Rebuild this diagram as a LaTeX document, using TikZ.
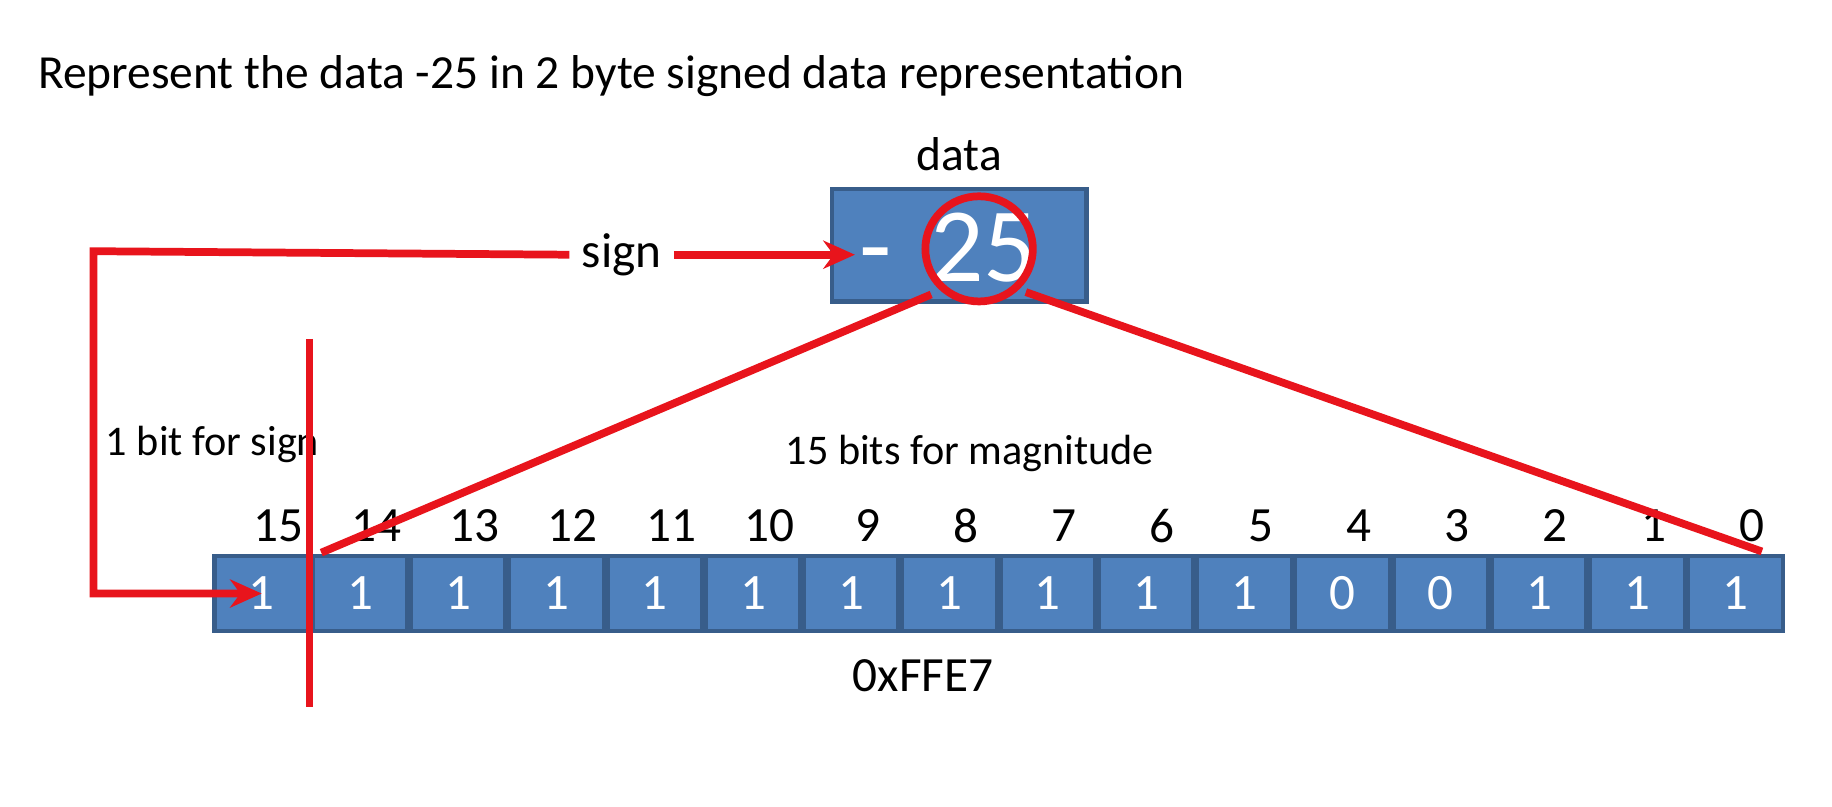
\documentclass[tikz,border=0pt]{standalone}
\usepackage{fontspec}
\setmainfont{Carlito}
\usetikzlibrary{positioning,arrows.meta}
\definecolor{cellblue}{HTML}{4F81BD}
\definecolor{celledge}{HTML}{385D8A}
\definecolor{markred}{HTML}{E8141C}
\tikzset{
  cell/.style={draw=celledge,line width=1.2pt,fill=cellblue,minimum width=81\unitx,minimum height=64\unitx,inner sep=0pt,text=white,font=\fontsize{14.5}{16}\selectfont},
  bitno/.style={font=\fontsize{14}{16}\selectfont},
  label/.style={font=\fontsize{12}{14}\selectfont},
  redline/.style={draw=markred,line width=2.2pt},
  redarrow/.style={redline,-{Stealth[length=9pt,width=8pt]}}
}
\newlength{\unitx}
\setlength{\unitx}{0.01168cm}
\begin{document}
\begin{tikzpicture}[x=0.01168cm,y=-0.01168cm]
\useasboundingbox[fill=white] (0,0) rectangle (1568,690);
% title
\node[anchor=west,font=\fontsize{13.5}{15}\selectfont] (title) at (22,65) {Represent the data -25 in 2 byte signed data representation};
% data box
\node[draw=celledge,line width=1.2pt,fill=cellblue,minimum width=218\unitx,minimum height=96\unitx] (databox) at (821,210) {};
\node[font=\fontsize{13.5}{15}\selectfont,above=1pt of databox] (datalbl) {data};
\node[text=white,font=\fontsize{30}{32}\selectfont] (num) at (842,212) {25};
\node[text=white,font=\fontsize{30}{32}\selectfont,anchor=base east,inner xsep=0pt] (minus) at ([xshift=-22\unitx]num.base west) {-};
\draw[redline] (838,213) ellipse (46 and 45);
\coordinate (cl) at (797,252);
\coordinate (cr) at (878,250);
% cells
\foreach \b [count=\i from 0] in {1,1,1,1,1,1,1,1,1,1,1,0,0,1,1,1} {
  \pgfmathtruncatemacro{\n}{15-\i}
  \node[cell] (c\n) at (224+84.1*\i,508) {\b};
  \node[bitno] (n\n) at (238+84.1*\i,450) {\n};
}
\node[font=\fontsize{14}{16}\selectfont] (hex) at (790,578) {0xFFE7};
\node[label] (magn) at (830,388) {15 bits for magnitude};
\node[label,anchor=west] (signbit) at (80,380) {1 bit for sign};
% sign path
\node[font=\fontsize{14}{16}\selectfont] (sign) at (532,218) {sign};
\coordinate (corner) at (80,215);
\draw[redarrow] (sign.east) -- ([xshift=-3\unitx]minus.west |- sign.east);
\draw[redarrow] (sign.west) -- (corner) |- (c15.center);
\draw[redline] (265,290) -- (265,605);
\draw[redline] (cl) -- (275,473);
\draw[redline] (cr) -- (1508,472);
\end{tikzpicture}
\end{document}
